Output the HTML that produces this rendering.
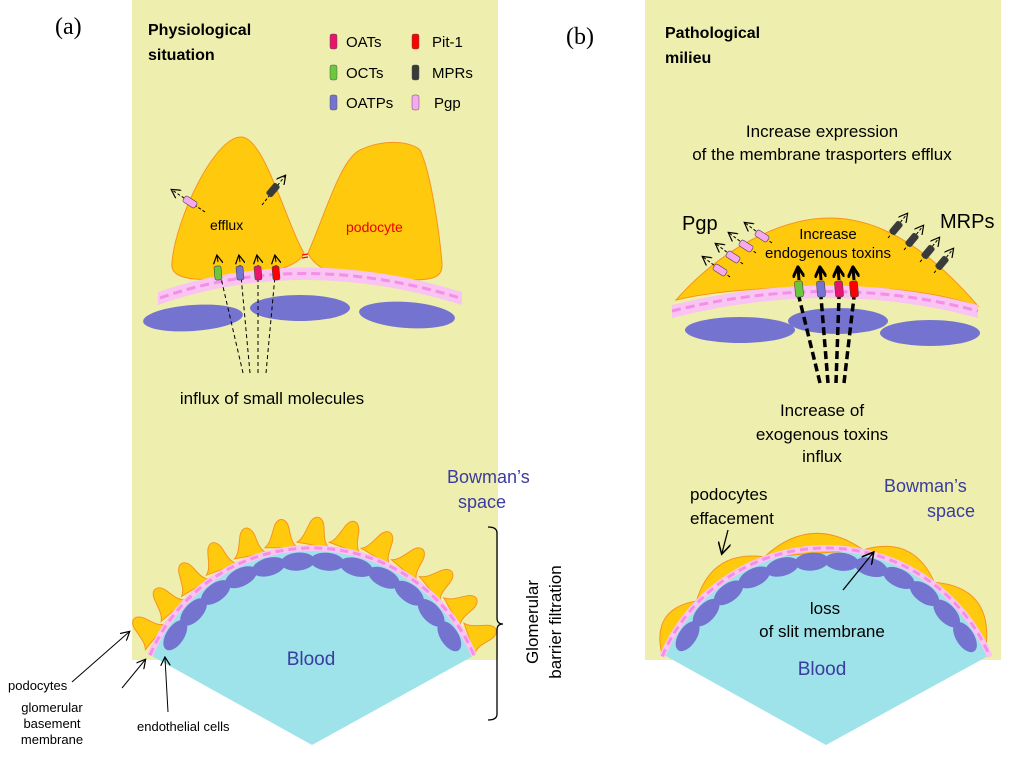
<!DOCTYPE html>
<html><head><meta charset="utf-8"><style>
body{margin:0;background:#fff;width:1024px;height:753px;overflow:hidden}
svg text{font-family:"Liberation Sans",sans-serif}
</style></head><body>
<svg id="s" width="1024" height="753" viewBox="0 0 1024 753" xmlns="http://www.w3.org/2000/svg">
<defs>
<marker id="ah" viewBox="0 0 10 10" refX="8" refY="5" markerWidth="10" markerHeight="10" orient="auto"><path d="M0,0 L9,5 L0,10" fill="none" stroke="#000" stroke-width="1.2"/></marker>
<marker id="ahb" viewBox="0 0 10 10" refX="8" refY="5" markerWidth="4" markerHeight="4" orient="auto"><path d="M0,0 L9,5 L0,10" fill="none" stroke="#000" stroke-width="2.5"/></marker>
</defs>
<rect x="132" y="0" width="366" height="660" fill="#EEEFAE"/>
<rect x="645" y="0" width="356" height="660" fill="#EEEFAE"/>
<text x="55" y="34" font-size="24" style="font-family:'Liberation Serif',serif">(a)</text>
<text x="566" y="44" font-size="24" style="font-family:'Liberation Serif',serif">(b)</text>

<text x="148" y="35" font-size="16" font-weight="bold">Physiological</text>
<text x="148" y="60" font-size="16" font-weight="bold">situation</text>
<g font-size="15">
<rect x="330" y="34" width="7" height="15" rx="2" fill="#E8156A" stroke="#555" stroke-width=".5"/><text x="346" y="47">OATs</text>
<rect x="412" y="34" width="7" height="15" rx="2" fill="#F00" stroke="#555" stroke-width=".5"/><text x="432" y="47">Pit-1</text>
<rect x="330" y="65" width="7" height="15" rx="2" fill="#6BC83C" stroke="#555" stroke-width=".5"/><text x="346" y="78">OCTs</text>
<rect x="412" y="65" width="7" height="15" rx="2" fill="#3A3A3A" stroke="#555" stroke-width=".5"/><text x="432" y="78">MPRs</text>
<rect x="330" y="95" width="7" height="15" rx="2" fill="#7474D0" stroke="#555" stroke-width=".5"/><text x="346" y="108">OATPs</text>
<rect x="412" y="95" width="7" height="15" rx="2" fill="#F9A7EE" stroke="#555" stroke-width=".5"/><text x="434" y="108">Pgp</text>
</g>

<path d="M172,263 C175,220 215,135 242,137 C265,140 285,220 304,253 C300,265 270,276 225,279 C190,281 170,278 172,263 Z" fill="#FFC90E" stroke="#F7941D"/>
<path d="M308,253 C325,215 340,160 360,150 C385,138 412,142 420,150 C432,175 440,240 442,263 C443,280 430,280 400,280 C350,280 318,275 308,253 Z" fill="#FFC90E" stroke="#F7941D"/>
<path d="M302,255 l6,-1 M302,258 l6,-1" stroke="#f00" stroke-width="1.2"/>
<path d="M158,305 Q300,255 462,305 L462,292 Q300,243 158,292 Z" fill="#F9C3F2"/>
<path d="M160,298 Q300,249 460,298" fill="none" stroke="#F38FE6" stroke-width="3" stroke-dasharray="9,5"/>
<ellipse cx="193" cy="318" rx="50" ry="13" transform="rotate(-4 193 318)" fill="#7474D0"/>
<ellipse cx="300" cy="308" rx="50" ry="13" fill="#7474D0"/>
<ellipse cx="407" cy="315" rx="48" ry="13" transform="rotate(4 407 315)" fill="#7474D0"/>
<text x="210" y="230" font-size="14">efflux</text>
<text x="346" y="232" font-size="14" fill="#E00">podocyte</text>
<g id="ta"></g>
<text x="272" y="404" font-size="17" text-anchor="middle">influx of small molecules</text>

<text x="447" y="483" font-size="18" fill="#3B3BA0">Bowman’s</text>
<text x="458" y="508" font-size="18" fill="#3B3BA0">space</text>
<path d="M150,655 A176,176 0 0 1 475,655 L312,745 Z" fill="#9EE3EA"/>
<g id="arcA"></g>
<text x="311" y="665" font-size="19" fill="#3B3BA0" text-anchor="middle">Blood</text>
<path d="M488,527 Q497,527 497,533 L497,618 Q497,624 503,624 Q497,624 497,630 L497,714 Q497,720 488,720" fill="none" stroke="#000" stroke-width="1.3"/>
<text transform="translate(538,622) rotate(-90)" font-size="17" text-anchor="middle">Glomerular</text>
<text transform="translate(561,622) rotate(-90)" font-size="17" text-anchor="middle">barrier filtration</text>
<text x="8" y="690" font-size="13">podocytes</text>
<line x1="72" y1="682" x2="129" y2="632" stroke="#000" marker-end="url(#ah)"/>
<text x="52" y="712" font-size="13" text-anchor="middle">glomerular</text>
<text x="52" y="728" font-size="13" text-anchor="middle">basement</text>
<text x="52" y="744" font-size="13" text-anchor="middle">membrane</text>
<line x1="122" y1="688" x2="145" y2="660" stroke="#000" marker-end="url(#ah)"/>
<text x="137" y="731" font-size="13">endothelial cells</text>
<line x1="168" y1="712" x2="165" y2="658" stroke="#000" marker-end="url(#ah)"/>

<text x="665" y="38" font-size="16" font-weight="bold">Pathological</text>
<text x="665" y="63" font-size="16" font-weight="bold">milieu</text>
<text x="822" y="137" font-size="17" text-anchor="middle">Increase expression</text>
<text x="822" y="160" font-size="17" text-anchor="middle">of the membrane trasporters efflux</text>
<text x="682" y="230" font-size="20">Pgp</text>
<text x="940" y="228" font-size="20">MRPs</text>
<path d="M676,300 C720,250 780,218 830,218 C880,218 930,250 978,306 C930,290 880,287 830,287 C760,287 710,292 676,300 Z" fill="#FFC90E" stroke="#F7941D"/>
<path d="M672,318 Q830,278 978,318 L978,305 Q830,266 672,305 Z" fill="#F9C3F2"/>
<path d="M672,311 Q830,272 978,311" fill="none" stroke="#F38FE6" stroke-width="3" stroke-dasharray="9,5"/>
<ellipse cx="740" cy="330" rx="55" ry="13" fill="#7474D0"/>
<ellipse cx="838" cy="321" rx="50" ry="13" fill="#7474D0"/>
<ellipse cx="930" cy="333" rx="50" ry="13" fill="#7474D0"/>
<text x="828" y="239" font-size="15" text-anchor="middle">Increase</text>
<text x="828" y="258" font-size="15" text-anchor="middle">endogenous toxins</text>
<g id="tb"></g>
<text x="822" y="416" font-size="17" text-anchor="middle">Increase of</text>
<text x="822" y="440" font-size="17" text-anchor="middle">exogenous toxins</text>
<text x="822" y="462" font-size="17" text-anchor="middle">influx</text>
<text x="690" y="500" font-size="17">podocytes</text>
<text x="690" y="524" font-size="17">effacement</text>
<text x="884" y="492" font-size="18" fill="#3B3BA0">Bowman’s</text>
<text x="927" y="517" font-size="18" fill="#3B3BA0">space</text>
<path d="M664,655 A178,178 0 0 1 990,655 L826,745 Z" fill="#9EE3EA"/>
<g id="arcB"></g>
<path d="M728,530 L722,553" stroke="#000" stroke-width="1.3" marker-end="url(#ah)"/>
<path d="M843,590 L873,553" stroke="#000" stroke-width="1.3" marker-end="url(#ah)"/>
<text x="825" y="614" font-size="17" text-anchor="middle">loss</text>
<text x="822" y="637" font-size="17" text-anchor="middle">of slit membrane</text>
<text x="822" y="675" font-size="19" fill="#3B3BA0" text-anchor="middle">Blood</text>
</svg>
<script>
var NS="http://www.w3.org/2000/svg";
function el(p,t,a){var e=document.createElementNS(NS,t);for(var k in a)e.setAttribute(k,a[k]);p.appendChild(e);return e;}
function cyl(g,x,y,c,ang,w,h){var gg=el(g,"g",{transform:"translate("+x+","+y+") rotate("+(ang||0)+")"});el(gg,"rect",{x:-(w||4),y:-(h||8),width:2*(w||4),height:2*(h||8),rx:2,fill:c,stroke:"#444","stroke-width":.6});}
var ta=document.getElementById("ta");
var cols=["#6BC83C","#7474D0","#E8156A","#F00"],xs=[218,240,258,276],bx=[243,250,258,266];
for(var i=0;i<4;i++){el(ta,"line",{x1:bx[i],y1:373,x2:xs[i],y2:265,stroke:"#000","stroke-dasharray":"4,3"});
el(ta,"line",{x1:xs[i],y1:262,x2:xs[i]-1,y2:256,stroke:"#000","marker-end":"url(#ah)"});cyl(ta,xs[i],273,cols[i],-5,3.5,7);}
el(ta,"line",{x1:205,y1:212,x2:172,y2:190,stroke:"#000","stroke-dasharray":"3,2","marker-end":"url(#ah)"});
cyl(ta,190,202,"#F9A7EE",-57,3.5,7);
el(ta,"line",{x1:262,y1:205,x2:285,y2:176,stroke:"#000","stroke-dasharray":"3,2","marker-end":"url(#ah)"});
cyl(ta,273,190,"#3A3A3A",40,3.5,7);
var tb=document.getElementById("tb");
var xb=[799,821,839,854],bb=[820,828,836,844];
for(var i=0;i<4;i++){el(tb,"line",{x1:bb[i],y1:383,x2:xb[i],y2:297,stroke:"#000","stroke-width":3.5,"stroke-dasharray":"8,4"});
el(tb,"line",{x1:xb[i],y1:280,x2:xb[i]-1,y2:268,stroke:"#000","stroke-width":3,"marker-end":"url(#ahb)"});cyl(tb,xb[i],289,cols[i],-5,4,8);}
var pg=[[720,270],[733,257],[746,246],[762,236]];
pg.forEach(function(p){el(tb,"line",{x1:p[0]+10,y1:p[1]+7,x2:p[0]-17,y2:p[1]-13,stroke:"#000","stroke-dasharray":"3,2","marker-end":"url(#ah)"});cyl(tb,p[0],p[1],"#F9A7EE",-57,3.5,7);});
var mr=[[896,228],[912,240],[928,252],[942,263]];
mr.forEach(function(p){el(tb,"line",{x1:p[0]-8,y1:p[1]+10,x2:p[0]+11,y2:p[1]-14,stroke:"#000","stroke-dasharray":"3,2","marker-end":"url(#ah)"});cyl(tb,p[0],p[1],"#3A3A3A",40,3.5,7);});
function arc(id,cx,cy,r,flat){var g=document.getElementById(id);
 var a0=-67*Math.PI/180,a1=67*Math.PI/180;
 if(!flat){for(var a=-61;a<=62;a+=10.2){var t=a*Math.PI/180,x=cx+Math.sin(t)*(r+3),y=cy-Math.cos(t)*(r+3);
  el(g,"path",{d:"M-16,0 C-11,-4 -10,-10 -7,-20 C-4,-31 5,-31 8,-20 C10,-10 11,-4 17,0 Z",transform:"translate("+x+","+y+") rotate("+(a+10)+")",fill:"#FFC90E",stroke:"#F7941D"});}}
 else{var segs=[[-66,-46,10],[-46,-20,10],[-20,12,11],[12,37,10],[37,63,12]];
  segs.forEach(function(s){var t0=s[0]*Math.PI/180,t1=s[1]*Math.PI/180,rr=r+2;
   var x0=cx+Math.sin(t0)*rr,y0=cy-Math.cos(t0)*rr,x1=cx+Math.sin(t1)*rr,y1=cy-Math.cos(t1)*rr,tm=(t0+t1)/2,
   xm=cx+Math.sin(tm)*(rr+s[2]*3),ym=cy-Math.cos(tm)*(rr+s[2]*3);
   el(g,"path",{d:"M"+x0+","+y0+" Q"+xm+","+ym+" "+x1+","+y1+" Z",fill:"#FFC90E",stroke:"#F7941D"});});}
 var p0x=cx+Math.sin(a0)*r,p0y=cy-Math.cos(a0)*r,p1x=cx+Math.sin(a1)*r,p1y=cy-Math.cos(a1)*r;
 el(g,"path",{d:"M"+p0x+","+p0y+" A"+r+","+r+" 0 0 1 "+p1x+","+p1y,fill:"none",stroke:"#F9C3F2","stroke-width":6});
 el(g,"path",{d:"M"+p0x+","+p0y+" A"+r+","+r+" 0 0 1 "+p1x+","+p1y,fill:"none",stroke:"#F38FE6","stroke-width":3,"stroke-dasharray":"8,5"});
 for(var a=-57;a<=58;a+=10.4){var t=a*Math.PI/180,x=cx+Math.sin(t)*(r-13),y=cy-Math.cos(t)*(r-13);
  el(g,"ellipse",{cx:x,cy:y,rx:17,ry:9,transform:"rotate("+a+" "+x+" "+y+")",fill:"#7474D0"});}
}
arc("arcA",312,724,176,false);
arc("arcB",826,726,178,true);
</script>
</body></html>
